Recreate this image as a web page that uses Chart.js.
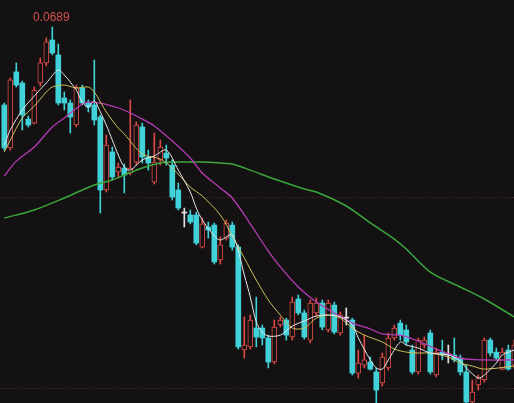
<!DOCTYPE html>
<html>
<head>
<meta charset="utf-8">
<script src="https://cdn.jsdelivr.net/npm/chart.js@4.4.1/dist/chart.umd.min.js"></script>
<style>
html,body{margin:0;padding:0;background:#131112;overflow:hidden}
#wrap{width:514px;height:403px;position:relative}
</style>
</head>
<body>
<div id="wrap"><canvas id="kline"></canvas></div>
<script>
// ==================================================
// Candle data (one entry per trading day)
// ==================================================
const OPEN=[0.06482,0.06257,0.06655,0.06597,0.06408,0.06387,0.06597,0.06702,0.06822,0.06744,
0.06518,0.06492,0.06377,0.06571,0.06492,0.06482,0.06419,0.06037,0.06236,0.06131,
0.06152,0.06126,0.06183,0.06367,0.06209,0.06078,0.06194,0.06230,0.06167,0.06037,
0.05916,0.05906,0.05906,0.05738,0.05843,0.05853,0.05670,0.05785,0.05853,0.05738,
0.05199,0.05215,0.05314,0.05314,0.05262,0.05136,0.05330,0.05356,0.05267,0.05466,
0.05393,0.05251,0.05393,0.05445,0.05304,0.05434,0.05288,0.05366,0.05356,0.05078,
0.05120,0.05136,0.05084,0.05026,0.05105,0.05262,0.05340,0.05304,0.05199,0.05084,
0.05225,0.05288,0.05068,0.05188,0.05173,0.05173,0.05157,0.05084,0.04927,0.05016,
0.05042,0.05251,0.05188,0.05099,0.05199,0.05120];
const CLOSE=[0.06257,0.06613,0.06586,0.06429,0.06377,0.06560,0.06702,0.06812,0.06754,0.06492,
0.06492,0.06419,0.06571,0.06492,0.06471,0.06403,0.06037,0.06272,0.06105,0.06157,
0.06115,0.06152,0.06377,0.06209,0.06178,0.06183,0.06262,0.06204,0.06000,0.05942,
0.05916,0.05869,0.05759,0.05859,0.05827,0.05660,0.05749,0.05864,0.05738,0.05215,
0.05225,0.05356,0.05267,0.05262,0.05136,0.05319,0.05356,0.05277,0.05450,0.05393,
0.05267,0.05445,0.05445,0.05319,0.05445,0.05293,0.05382,0.05366,0.05078,0.05131,
0.05147,0.05099,0.04989,0.05162,0.05262,0.05314,0.05277,0.05241,0.05084,0.05251,
0.05251,0.05084,0.05188,0.05173,0.05173,0.05147,0.05084,0.04927,0.04979,0.05052,
0.05251,0.05183,0.05157,0.05188,0.05099,0.05225];
const HIGH=[0.06492,0.06623,0.06702,0.06607,0.06424,0.06576,0.06728,0.06833,0.06890,0.06801,
0.06550,0.06508,0.06586,0.06586,0.06508,0.06717,0.06429,0.06325,0.06262,0.06178,
0.06173,0.06508,0.06393,0.06387,0.06246,0.06335,0.06298,0.06272,0.06194,0.06073,
0.05942,0.05932,0.05921,0.05890,0.05869,0.05864,0.05791,0.05880,0.05869,0.05749,
0.05372,0.05382,0.05476,0.05330,0.05277,0.05356,0.05372,0.05366,0.05476,0.05487,
0.05408,0.05461,0.05471,0.05461,0.05461,0.05450,0.05398,0.05419,0.05366,0.05199,
0.05277,0.05162,0.05105,0.05183,0.05288,0.05330,0.05356,0.05330,0.05225,0.05262,
0.05267,0.05304,0.05209,0.05251,0.05225,0.05262,0.05173,0.05120,0.05042,0.05068,
0.05262,0.05262,0.05209,0.05209,0.05225,0.05251];
const LOW=[0.06246,0.06246,0.06576,0.06351,0.06367,0.06382,0.06581,0.06686,0.06744,0.06482,
0.06456,0.06335,0.06367,0.06482,0.06445,0.06377,0.05916,0.06026,0.06089,0.06099,
0.06021,0.06115,0.06167,0.06178,0.06141,0.06068,0.06167,0.06167,0.05984,0.05932,
0.05843,0.05859,0.05749,0.05733,0.05785,0.05649,0.05649,0.05775,0.05722,0.05204,
0.05157,0.05204,0.05215,0.05225,0.05105,0.05126,0.05319,0.05251,0.05251,0.05382,
0.05256,0.05236,0.05377,0.05304,0.05293,0.05283,0.05277,0.05330,0.05068,0.05052,
0.05105,0.05094,0.04921,0.05010,0.05094,0.05251,0.05251,0.05225,0.05073,0.05073,
0.05209,0.05073,0.05058,0.05147,0.05131,0.05136,0.05068,0.04911,0.04911,0.04989,
0.05031,0.05167,0.05147,0.05094,0.05094,0.05105];

// ==================================================
// Moving averages, read at [day index, value]
// ==================================================
const MA5=[[0,0.06272],[1,0.06351],[3,0.06456],[5,0.06529],[7,0.06597],[9,0.06665],[10,0.06639],[11,0.06602],
[12,0.06560],[13,0.06497],[14,0.06471],[15,0.06503],[16,0.06445],[17,0.06377],[18,0.06298],[19,0.06220],
[20,0.06157],[21,0.06141],[23,0.06194],[25,0.06215],[27,0.06246],[29,0.06141],[31,0.06026],[32,0.05942],
[33,0.05880],[35,0.05796],[36,0.05775],[38,0.05801],[40,0.05592],[41,0.05476],[42,0.05345],[43,0.05293],
[44,0.05272],[46,0.05277],[48,0.05324],[50,0.05351],[52,0.05377],[54,0.05382],[56,0.05372],[58,0.05330],
[59,0.05262],[61,0.05147],[62,0.05105],[63,0.05099],[64,0.05147],[66,0.05241],[67,0.05225],[69,0.05209],
[71,0.05183],[74,0.05173],[76,0.05141],[77,0.05105],[79,0.05052],[80,0.05068],[82,0.05131],[83,0.05173],[85,0.05199]];
const MA10=[[0,0.06236],[1,0.06298],[3,0.06414],[5,0.06476],[7,0.06550],[8,0.06576],[10,0.06586],[12,0.06571],
[14,0.06576],[15,0.06550],[17,0.06445],[19,0.06361],[20,0.06330],[23,0.06225],[26,0.06199],[28,0.06152],
[31,0.06052],[33,0.06005],[36,0.05906],[38,0.05796],[40,0.05681],[42,0.05565],[44,0.05461],[46,0.05382],
[48,0.05314],[50,0.05314],[52,0.05366],[54,0.05382],[56,0.05366],[58,0.05314],[60,0.05277],[63,0.05241],
[65,0.05204],[67,0.05188],[69,0.05183],[71,0.05183],[74,0.05162],[76,0.05131],[78,0.05115],[80,0.05099],[85,0.05115]];
const MA20=[[0,0.06110],[2,0.06188],[5,0.06262],[8,0.06367],[10,0.06414],[13,0.06487],[14,0.06497],[16,0.06492],
[19,0.06466],[21,0.06440],[23,0.06408],[25,0.06372],[28,0.06293],[31,0.06204],[33,0.06126],[36,0.06047],
[38,0.05995],[41,0.05859],[44,0.05717],[46,0.05634],[49,0.05529],[52,0.05450],[55,0.05393],[58,0.05340],
[61,0.05309],[63,0.05283],[66,0.05277],[69,0.05246],[72,0.05204],[76,0.05157],[80,0.05147],[85,0.05147]];
const MA60=[[0,0.05890],[5,0.05932],[10,0.05995],[15,0.06063],[18,0.06089],[20,0.06115],[23,0.06152],[26,0.06178],
[28,0.06183],[33,0.06183],[36,0.06178],[38,0.06173],[41,0.06141],[45,0.06094],[50,0.06042],[52,0.06026],
[57,0.05953],[61,0.05864],[65,0.05780],[67,0.05728],[71,0.05607],[76,0.05529],[80,0.05466],[85,0.05372]];

const GRID_LEVELS=[0.05,0.06];
const Y_MIN=0.049215,Y_MAX=0.070315;
const X_MIN=-0.717,X_MAX=84.95;

// ==================================================
// Colours
// ==================================================
const BG='#131112',UP='#dc4b47',DOWN='#40d2d8',FLAT='#e4e4e4';
const MA_COLORS={ma5:'#e8e8e8',ma10:'#cfc25a',ma20:'#b43cb4',ma60:'#3ba63b'};

function candleColor(i){return CLOSE[i]>OPEN[i]?UP:CLOSE[i]<OPEN[i]?DOWN:FLAT;}
const days=OPEN.map((_,i)=>i);
const wickData=days.map(i=>({x:i,y:[LOW[i],HIGH[i]]}));
const bodyData=days.map(i=>({x:i,y:[OPEN[i],CLOSE[i]]}));
const pts=a=>a.map(([x,y])=>({x,y}));
function maSet(label,data,color,width,order){
  return{type:'line',label,data:pts(data),borderColor:color,borderWidth:width,pointRadius:0,tension:.3,fill:false,order};
}

// dotted price levels + highest price tag
const overlay={id:'overlay',
  beforeDatasetsDraw(chart){
    const {ctx,chartArea:a,scales:{y}}=chart;
    ctx.save();ctx.strokeStyle='#4e2a2a';ctx.lineWidth=1;ctx.setLineDash([1,2]);
    GRID_LEVELS.forEach(v=>{const py=Math.round(y.getPixelForValue(v))+.5;ctx.beginPath();ctx.moveTo(a.left,py);ctx.lineTo(a.right,py);ctx.stroke();});
    ctx.restore();
  },
  afterDatasetsDraw(chart){
    const {ctx,scales:{x,y}}=chart;
    const top=Math.max(...HIGH),i=HIGH.indexOf(top);
    ctx.save();ctx.fillStyle='#d4504c';ctx.font='12px "Liberation Sans", Arial, sans-serif';
    ctx.textAlign='center';ctx.textBaseline='alphabetic';
    ctx.fillText(top.toFixed(4),x.getPixelForValue(i)-1,y.getPixelForValue(top)-6);
    ctx.restore();
  }
};

new Chart(document.getElementById('kline'),{
  type:'bar',
  data:{datasets:[
    {label:'wick',data:wickData,backgroundColor:days.map(candleColor),borderWidth:0,barThickness:1,grouped:false,order:10},
    {label:'body',data:bodyData,backgroundColor:days.map(i=>CLOSE[i]>OPEN[i]?BG:candleColor(i)),
     borderColor:days.map(candleColor),borderWidth:days.map(i=>CLOSE[i]>OPEN[i]?1:0),borderSkipped:false,
     barThickness:5,minBarLength:1,grouped:false,order:9},
    maSet('MA60',MA60,MA_COLORS.ma60,1.5,4),
    maSet('MA20',MA20,MA_COLORS.ma20,1.3,3),
    maSet('MA10',MA10,MA_COLORS.ma10,1,2),
    maSet('MA5',MA5,MA_COLORS.ma5,1,1)
  ]},
  options:{responsive:true,maintainAspectRatio:false,animation:false,events:[],
    layout:{padding:0},
    plugins:{legend:{display:false},tooltip:{enabled:false}},
    scales:{
      x:{type:'linear',min:X_MIN,max:X_MAX,offset:false,display:false},
      y:{min:Y_MIN,max:Y_MAX,display:false}
    }
  },
  plugins:[overlay]
});
</script>
</body>
</html>
